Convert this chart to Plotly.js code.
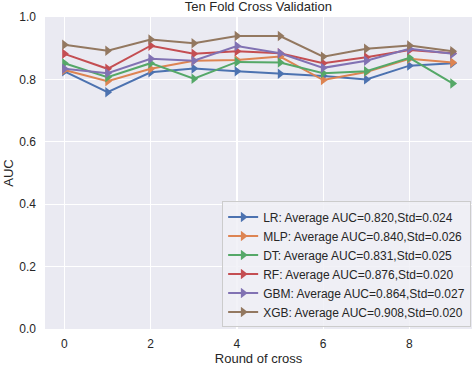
<!DOCTYPE html>
<html>
<head>
<meta charset="utf-8">
<script src="https://cdn.plot.ly/plotly-3.0.1.min.js"></script>
<style>html,body{margin:0;padding:0;background:#fff;}#chart{width:474px;height:366px;}</style>
</head>
<body>
<div id="chart"></div>
<script>
const rounds = [0,1,2,3,4,5,6,7,8,9];
const seriesNames = [
  "LR: Average AUC=0.820,Std=0.024",
  "MLP: Average AUC=0.840,Std=0.026",
  "DT: Average AUC=0.831,Std=0.025",
  "RF: Average AUC=0.876,Std=0.020",
  "GBM: Average AUC=0.864,Std=0.027",
  "XGB: Average AUC=0.908,Std=0.020"
];
const lrAUC  = [0.826,0.759,0.823,0.835,0.826,0.818,0.811,0.800,0.844,0.852];
const mlpAUC = [0.830,0.794,0.834,0.860,0.862,0.873,0.798,0.824,0.866,0.854];
const dtAUC  = [0.852,0.807,0.852,0.802,0.856,0.854,0.820,0.826,0.869,0.787];
const rfAUC  = [0.882,0.834,0.908,0.882,0.890,0.884,0.852,0.871,0.894,0.884];
const gbmAUC = [0.834,0.820,0.866,0.860,0.907,0.884,0.837,0.860,0.898,0.882];
const xgbAUC = [0.911,0.892,0.928,0.916,0.939,0.939,0.873,0.898,0.909,0.890];
const allSeries = [lrAUC, mlpAUC, dtAUC, rfAUC, gbmAUC, xgbAUC];
const colors = ["#4C72B0","#DD8452","#55A868","#C44E52","#8172B3","#937860"];

const traces = allSeries.map((vals, i) => ({
  x: rounds, y: vals, name: seriesNames[i], type: 'scatter', mode: 'lines+markers',
  line: {color: colors[i], width: 2},
  marker: {symbol: 'triangle-right', size: 9, color: colors[i]}
}));

const fam = 'Liberation Sans, Arial, sans-serif';
const font = {family: fam, size: 12, color: '#262626'};
const layout = {
  width: 474, height: 366,
  margin: {l: 45, r: 2, t: 17, b: 37},
  paper_bgcolor: '#ffffff', plot_bgcolor: '#EAEAF2',
  font: font,
  title: {text: 'Ten Fold Cross Validation', font: {family: fam, size: 13, color: '#262626'},
          x: 0.545, xanchor: 'center', y: 0.982, yanchor: 'middle', yref: 'container'},
  xaxis: {range: [-0.45, 9.45], tickvals: [0,2,4,6,8], showgrid: true, gridcolor: '#ffffff', gridwidth: 1.2,
          zeroline: false, showline: false, ticks: '', ticklabelstandoff: 6,
          tickfont: {family: fam, size: 12, color: '#262626'},
          title: {text: 'Round of cross', font: {family: fam, size: 13, color: '#262626'}, standoff: 2}},
  yaxis: {range: [0, 1], tickvals: [0,0.2,0.4,0.6,0.8,1.0], ticktext: ['0.0','0.2','0.4','0.6','0.8','1.0'],
          showgrid: true, gridcolor: '#ffffff', gridwidth: 1.2, zeroline: false, showline: false, ticks: '',
          ticklabelstandoff: 8, tickfont: {family: fam, size: 12, color: '#262626'},
          title: {text: 'AUC', font: {family: fam, size: 13, color: '#262626'}, standoff: 2}},
  showlegend: true,
  legend: {x: 0.998, xanchor: 'right', y: 0.005, yanchor: 'bottom', bgcolor: 'rgba(240,240,246,0.85)',
           bordercolor: '#cccccc', borderwidth: 1, font: {family: fam, size: 12, color: '#262626'},
           tracegroupgap: 0, itemwidth: 30}
};
Plotly.newPlot('chart', traces, layout, {displayModeBar: false, staticPlot: true});
</script>
</body>
</html>
